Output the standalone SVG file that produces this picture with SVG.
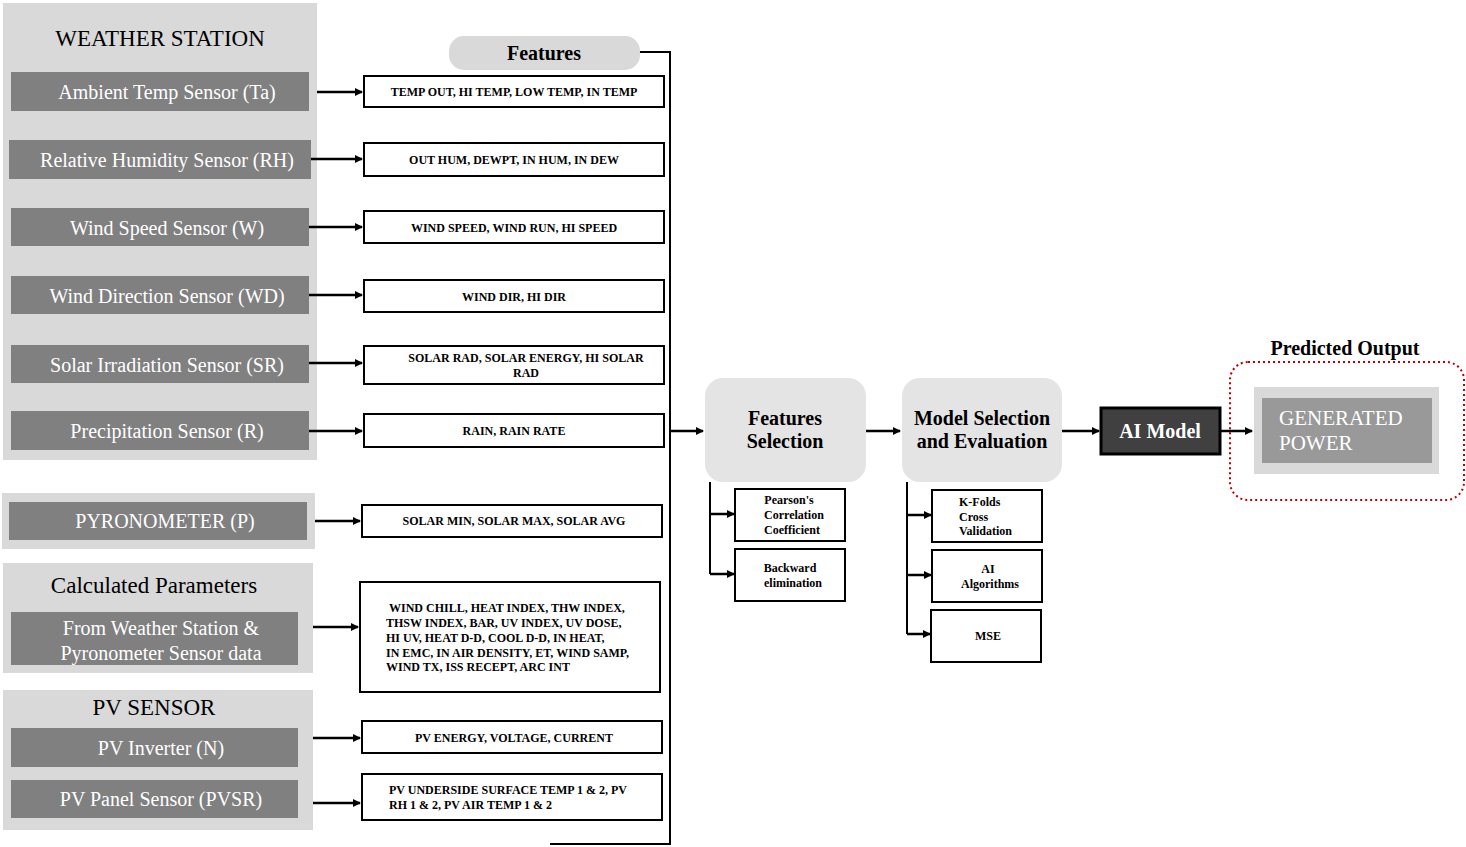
<svg xmlns="http://www.w3.org/2000/svg" width="1466" height="847" viewBox="0 0 1466 847">
<style>
.bg{fill:#d9d9d9}
.bar{fill:#808080}
.bt{font-family:"Liberation Serif",serif;font-size:20px;fill:#fff;text-anchor:middle}
.tt{font-family:"Liberation Serif",serif;font-size:23px;fill:#000;text-anchor:middle}
.fb{fill:#fff;stroke:#000;stroke-width:2}
.ft{font-family:"Liberation Serif",serif;font-size:12px;font-weight:bold;fill:#000;text-anchor:middle}
.fl{font-family:"Liberation Serif",serif;font-size:12px;font-weight:bold;fill:#000}
.big{font-family:"Liberation Serif",serif;font-size:20px;font-weight:bold;fill:#000;text-anchor:middle}
.ln{stroke:#000;stroke-width:2;fill:none}
.ar{stroke:#000;stroke-width:2.5;fill:none;marker-end:url(#ah)}
</style>
<defs><marker id="ah" markerWidth="8" markerHeight="8" refX="7" refY="4" orient="auto" markerUnits="userSpaceOnUse" viewBox="0 0 8 8"><path d="M0,0 L8,4 L0,8 z" fill="#000"/></marker></defs>
<rect width="1466" height="847" fill="#fff"/>
<g id="weather-station">
<rect class="bg" x="3" y="3" width="314" height="457"/>
<text class="tt" x="160" y="46">WEATHER STATION</text>
<rect class="bar" x="11" y="72" width="298" height="39"/><text class="bt" x="167" y="99">Ambient Temp Sensor (Ta)</text>
<rect class="bar" x="9" y="140" width="302" height="39"/><text class="bt" x="167" y="167">Relative Humidity Sensor (RH)</text>
<rect class="bar" x="11" y="208" width="298" height="38"/><text class="bt" x="167" y="235">Wind Speed Sensor (W)</text>
<rect class="bar" x="11" y="276" width="298" height="38"/><text class="bt" x="167" y="303">Wind Direction Sensor (WD)</text>
<rect class="bar" x="11" y="345" width="298" height="38"/><text class="bt" x="167" y="372">Solar Irradiation Sensor (SR)</text>
<rect class="bar" x="11" y="411" width="298" height="39"/><text class="bt" x="167" y="438">Precipitation Sensor (R)</text>
</g>
<g id="pyronometer">
<rect class="bg" x="2" y="493" width="313" height="56"/>
<rect class="bar" x="9" y="502" width="298" height="38"/><text class="bt" x="165" y="528">PYRONOMETER (P)</text>
</g>
<g id="calculated">
<rect class="bg" x="3" y="563" width="310" height="110"/>
<text class="tt" x="154" y="593">Calculated Parameters</text>
<rect class="bar" x="11" y="612" width="287" height="53"/>
<text class="bt" x="161" y="635">From Weather Station &amp;</text>
<text class="bt" x="161" y="660">Pyronometer Sensor data</text>
</g>
<g id="pv-sensor">
<rect class="bg" x="3" y="690" width="310" height="140"/>
<text class="tt" x="154" y="715">PV SENSOR</text>
<rect class="bar" x="11" y="728" width="287" height="39"/><text class="bt" x="161" y="755">PV Inverter (N)</text>
<rect class="bar" x="11" y="780" width="287" height="38"/><text class="bt" x="161" y="806">PV Panel Sensor (PVSR)</text>
</g>
<g id="feature-boxes">
<rect x="449" y="36" width="191" height="34" rx="15" fill="#d9d9d9"/>
<text class="big" x="544" y="60">Features</text>
<rect class="fb" x="364" y="76" width="300" height="31"/><text class="ft" x="514" y="96">TEMP OUT, HI TEMP, LOW TEMP, IN TEMP</text>
<rect class="fb" x="364" y="143" width="300" height="33"/><text class="ft" x="514" y="164">OUT HUM, DEWPT, IN HUM, IN DEW</text>
<rect class="fb" x="364" y="211" width="300" height="32"/><text class="ft" x="514" y="232">WIND SPEED, WIND RUN, HI SPEED</text>
<rect class="fb" x="364" y="280" width="300" height="32"/><text class="ft" x="514" y="301">WIND DIR, HI DIR</text>
<rect class="fb" x="364" y="346" width="300" height="38"/><text class="ft" x="526" y="362">SOLAR RAD, SOLAR ENERGY, HI SOLAR</text><text class="ft" x="526" y="377">RAD</text>
<rect class="fb" x="364" y="414" width="300" height="33"/><text class="ft" x="514" y="435">RAIN, RAIN RATE</text>
<rect class="fb" x="362" y="505" width="300" height="32"/><text class="ft" x="514" y="525">SOLAR MIN, SOLAR MAX, SOLAR AVG</text>
<rect class="fb" x="360" y="582" width="300" height="110"/>
<text class="fl" x="389" y="612">WIND CHILL, HEAT INDEX, THW INDEX,</text>
<text class="fl" x="386" y="627">THSW INDEX, BAR, UV INDEX, UV DOSE,</text>
<text class="fl" x="386" y="642">HI UV, HEAT D-D, COOL D-D, IN HEAT,</text>
<text class="fl" x="386" y="657">IN EMC, IN AIR DENSITY, ET, WIND SAMP,</text>
<text class="fl" x="386" y="671">WIND TX, ISS RECEPT, ARC INT</text>
<rect class="fb" x="362" y="721" width="300" height="32"/><text class="ft" x="514" y="742">PV ENERGY, VOLTAGE, CURRENT</text>
<rect class="fb" x="362" y="774" width="300" height="46"/>
<text class="fl" x="389" y="794">PV UNDERSIDE SURFACE TEMP 1 &amp; 2, PV</text>
<text class="fl" x="389" y="809">RH 1 &amp; 2, PV AIR TEMP 1 &amp; 2</text>
</g>
<g id="features-selection">
<rect x="705" y="378" width="161" height="104" rx="18" fill="#e4e4e4"/>
<text class="big" x="785" y="425">Features</text><text class="big" x="785" y="448">Selection</text>
<rect class="fb" x="735" y="489" width="110" height="52"/>
<text class="ft" x="789" y="504">Pearson's</text><text class="ft" x="794" y="519">Correlation</text><text class="ft" x="792" y="534">Coefficient</text>
<rect class="fb" x="735" y="549" width="110" height="52"/>
<text class="ft" x="790" y="572">Backward</text><text class="ft" x="793" y="587">elimination</text>
</g>
<g id="model-selection">
<rect x="902" y="378" width="160" height="104" rx="18" fill="#e4e4e4"/>
<text class="big" x="982" y="425">Model Selection</text><text class="big" x="982" y="448">and Evaluation</text>
<rect class="fb" x="932" y="490" width="110" height="52"/>
<text class="fl" x="959" y="506">K-Folds</text><text class="fl" x="959" y="521">Cross</text><text class="fl" x="959" y="535">Validation</text>
<rect class="fb" x="932" y="550" width="110" height="52"/>
<text class="ft" x="988" y="573">AI</text><text class="ft" x="990" y="588">Algorithms</text>
<rect class="fb" x="931" y="610" width="110" height="52"/>
<text class="ft" x="988" y="640">MSE</text>
</g>
<g id="ai-model">
<rect x="1101" y="408" width="119" height="46" fill="#404040" stroke="#000" stroke-width="3"/>
<text class="big" x="1160" y="438" fill="#fff" style="fill:#fff">AI Model</text>
</g>
<g id="predicted-output">
<text class="big" x="1345" y="355">Predicted Output</text>
<rect x="1230" y="362" width="234" height="138" rx="18" fill="none" stroke="#c00000" stroke-width="2" stroke-dasharray="2,3"/>
<rect x="1254" y="387" width="185" height="87" fill="#d9d9d9"/>
<rect x="1262" y="398" width="170" height="65" fill="#999999"/>
<text x="1279" y="425" font-family="Liberation Serif, serif" font-size="21" fill="#fff">GENERATED</text>
<text x="1279" y="450" font-family="Liberation Serif, serif" font-size="21" fill="#fff">POWER</text>
</g>
<g id="connectors">
<path class="ar" d="M317,92 H362"/>
<path class="ar" d="M311,159 H362"/>
<path class="ar" d="M309,227 H362"/>
<path class="ar" d="M309,295 H362"/>
<path class="ar" d="M309,363 H362"/>
<path class="ar" d="M309,431 H362"/>
<path class="ar" d="M315,521 H360"/>
<path class="ar" d="M313,627 H358"/>
<path class="ar" d="M313,738 H360"/>
<path class="ar" d="M313,803 H360"/>
<path class="ln" d="M640,52 H670 V844 H550" stroke-width="1.5"/>
<path class="ar" d="M670,431 H703"/>
<path class="ar" d="M866,431 H900"/>
<path class="ar" d="M1062,431 H1099"/>
<path class="ar" d="M1220,431 H1252"/>
<path class="ln" d="M710,482 V574"/>
<path class="ar" d="M710,514 H734"/>
<path class="ar" d="M710,574 H734"/>
<path class="ln" d="M907,482 V634"/>
<path class="ar" d="M907,515 H931"/>
<path class="ar" d="M907,575 H931"/>
<path class="ar" d="M907,634 H930"/>
</g>
</svg>
